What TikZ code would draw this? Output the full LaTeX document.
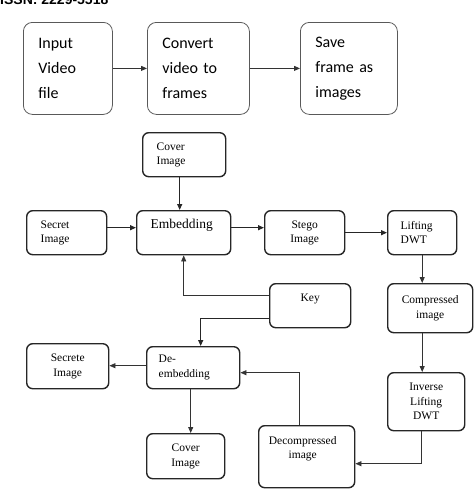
\documentclass[tikz,border=0pt]{standalone}
\usepackage{fontspec}
\setmainfont{Liberation Serif}
\newfontfamily\calibri{Carlito}
\newfontfamily\hdrfont{Liberation Sans}
\usetikzlibrary{arrows.meta}
\begin{document}
\begin{tikzpicture}[x=1pt,y=-1pt,
  tb/.style={draw=black!65, line width=0.8pt, rounded corners=9pt, anchor=north west,
    font=\calibri\fontsize{16}{25}\selectfont, align=left, inner xsep=15pt, inner ysep=0pt},
  lb/.style={draw=black!85, line width=1.4pt, rounded corners=6pt, anchor=north west,
    font=\fontsize{11.5}{14.5}\selectfont, inner ysep=0pt},
  lbl/.style={lb, align=left},
  lbc/.style={lb, align=center, inner xsep=0pt},
  arr/.style={draw=black!85, line width=1.2pt, -{Triangle[length=6pt,width=5pt]}},
  tarr/.style={draw=black!80, line width=0.8pt, -{Triangle[length=6pt,width=5pt]}}
]
\useasboundingbox (0,0) rectangle (474,490);
\clip (0,0) rectangle (474,490);
\node[font=\hdrfont\bfseries\fontsize{14}{14}\selectfont, anchor=base west, inner sep=0pt] (hdr) at (0,4) {ISSN: 2229-5518};

% top row
\node[tb, text width=59pt, minimum height=92pt] (in) at (23,22) {Input\\Video\\file};
\node[tb, text width=72pt, minimum height=92pt] (cv) at (147,22) {Convert\\video to\\frames};
\node[tb, text width=67pt, minimum height=92pt] (sv) at (300,22) {Save\\frame as\\images};
\draw[tarr] (in) -- (cv);
\draw[tarr] (cv) -- (sv);

% lower diagram
\node[lbl, inner xsep=14pt, text width=55pt, minimum height=44pt] (cover) at (142,132) {Cover\\Image};
\node[lbl, inner xsep=14pt, text width=52pt, minimum height=44pt] (sec) at (26,210) {Secret\\Image};
\node[lbc, text width=94pt, minimum height=44pt,
  label={[font=\fontsize{13.5}{15}\selectfont, yshift=7pt, xshift=-2pt]center:Embedding}] (emb) at (136,210) {};
\node[lbc, text width=80pt, minimum height=44pt] (stego) at (264,210) {Stego\\Image};
\node[lbl, inner xsep=13pt, text width=43pt, minimum height=44pt] (lift) at (387,210) {Lifting\\DWT};
\node[lbc, text width=81pt, minimum height=44pt,
  label={[font=\fontsize{11.5}{14.5}\selectfont, yshift=7pt]center:Key}] (key) at (269,283) {};
\node[lbc, text width=85pt, minimum height=49pt] (comp) at (387,283) {Compressed\\image};
\node[lbl, inner xsep=12pt, text width=69pt, minimum height=42pt] (demb) at (146,346) {De-\\embedding};
\node[lbc, text width=82pt, minimum height=45pt] (secr) at (26,343) {Secrete\\Image};
\node[lbc, text width=78pt, minimum height=45pt] (cov2) at (146,433) {Cover\\Image};
\node[lbc, text width=96pt, minimum height=62pt,
  label={[font=\fontsize{11.5}{14.5}\selectfont, align=center, yshift=8pt, xshift=-4pt]center:Decompressed\\image}] (dec) at (258,425) {};
\node[lbc, text width=77pt, minimum height=58pt] (inv) at (387,372) {Inverse\\Lifting\\DWT};

% connectors
\draw[arr] ([xshift=-4.5pt]cover.south) -- ([xshift=-4.5pt]cover.south |- emb.north);
\draw[arr] ([yshift=5pt]sec.east) -- ([yshift=5pt]emb.west);
\draw[arr] ([yshift=5pt]emb.east) -- ([yshift=5pt]stego.west);
\draw[arr] (stego) -- (lift);
\draw[tarr] ([yshift=10pt]key.west) -| (emb.south);
\draw[tarr] (lift.south) -- (lift.south |- comp.north);
\draw[arr] ([yshift=-13pt]key.west) -| ([xshift=7.5pt]demb.north);
\draw[tarr] ([yshift=2pt]demb.west) -- ([yshift=2pt]demb.west -| secr.east);
\draw[tarr] ([xshift=-2.5pt]demb.south) -- ([xshift=-2.5pt]demb.south |- cov2.north);
\draw[tarr] ([xshift=-7pt]dec.north) |- ([yshift=-5pt]demb.east);
\draw[tarr] (lift.south |- comp.south) -- (lift.south |- inv.north);
\draw[tarr] ([xshift=-4.5pt]inv.south) |- ([yshift=-7pt]dec.east);
\end{tikzpicture}
\end{document}
